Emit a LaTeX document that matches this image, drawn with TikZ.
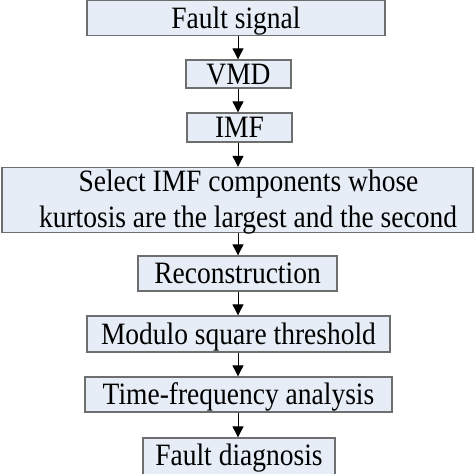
\documentclass[tikz,border=0pt]{standalone}
\usepackage{fontspec}
\setmainfont{Liberation Serif}
\usetikzlibrary{arrows.meta}
\definecolor{boxfill}{RGB}{230,237,247}
\definecolor{boxline}{RGB}{110,110,110}
\newcommand{\tallt}[1]{\scalebox{1}[1.13]{\fontsize{27.5}{31.5}\selectfont #1}}
\tikzset{
  x=1pt,y=1pt,
  box/.style={draw=boxline, fill=boxfill, line width=1.3pt, inner sep=0pt, anchor=center,
    text height=20pt, text depth=0pt},
  conn/.style={draw=black, line width=0.9pt, -{Triangle[width=11pt,length=11pt]}},
  txt/.style={inner sep=0pt, anchor=base}
}
\begin{document}
\begin{tikzpicture}
\useasboundingbox (0,0) rectangle (474,-474);
\clip (0,0) rectangle (474,-474);
\fill[white] (0,0) rectangle (474,-474);
\node[box, minimum width=298, minimum height=35] (fs) at (236,-18) {\tallt{Fault signal}};
\node[box, minimum width=105, minimum height=28] (vmd) at (238.5,-74) {\tallt{VMD}};
\node[box, minimum width=105, minimum height=29] (imf) at (239.5,-127.5) {\tallt{IMF}};
\node[box, minimum width=471, minimum height=65] (sel) at (237.5,-200) {};
\node[txt] (selt1) at (248.5,-191.7) {\tallt{Select IMF components whose}};
\node[txt] (selt2) at (248,-227.5) {\tallt{kurtosis are the largest and the second}};
\node[box, minimum width=199, minimum height=35] (rec) at (237.5,-273.5) {\tallt{Reconstruction}};
\node[box, minimum width=303, minimum height=36] (mod) at (238.5,-334) {\tallt{Modulo square threshold}};
\node[box, minimum width=307, minimum height=35] (tfa) at (238.5,-394.5) {\tallt{Time-frequency analysis}};
\node[box, minimum width=192, minimum height=46] (fd) at (239,-461) {};
\node[txt] (fdt) at (239,-465.3) {\tallt{Fault diagnosis}};
\draw[conn] (fs.south -| 238,0) -- (vmd.north -| 238,0);
\draw[conn] (vmd.south -| 238,0) -- (imf.north -| 238,0);
\draw[conn] (imf.south -| 238,0) -- (sel.north -| 238,0);
\draw[conn] (sel.south -| 238,0) -- (rec.north -| 238,0);
\draw[conn] (rec.south -| 238,0) -- (mod.north -| 238,0);
\draw[conn] (mod.south -| 238,0) -- (tfa.north -| 238,0);
\draw[conn] (tfa.south -| 238,0) -- (fd.north -| 238,0);
\end{tikzpicture}
\end{document}
